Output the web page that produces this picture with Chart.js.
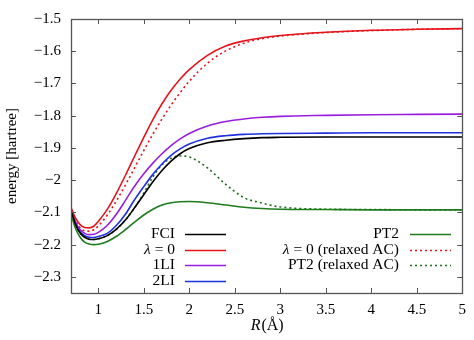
<!DOCTYPE html>
<html>
<head>
<meta charset="utf-8">
<script src="https://cdn.jsdelivr.net/npm/chart.js@4/dist/chart.umd.min.js"></script>
<style>
  html, body { margin: 0; padding: 0; background: #fff; }
  #wrap { width: 474px; height: 340px; }
</style>
</head>
<body>
<div id="wrap"><canvas id="c" width="474" height="340"></canvas></div>
<script>
// Bond length grid (Å)
const R = [0.7, 0.75, 0.8, 0.85, 0.9, 0.95, 1.0, 1.1, 1.2, 1.3, 1.4, 1.5, 1.6, 1.7, 1.8, 1.9, 2.0, 2.2, 2.4, 2.6, 2.8, 3.0, 3.5, 4.0, 4.5, 5.0];

// Energies (hartree)
const FCI = [-2.093, -2.137, -2.164, -2.177, -2.183, -2.184, -2.182, -2.172, -2.152, -2.123, -2.085, -2.045, -2.005, -1.970, -1.941, -1.918, -1.902, -1.884, -1.876, -1.871, -1.868, -1.867, -1.866, -1.866, -1.866, -1.866];
const LAMBDA0 = [-2.085, -2.118, -2.138, -2.147, -2.148, -2.143, -2.128, -2.090, -2.040, -1.984, -1.925, -1.867, -1.812, -1.763, -1.721, -1.686, -1.657, -1.613, -1.584, -1.568, -1.558, -1.551, -1.541, -1.535, -1.532, -1.530];
const LI1 = [-2.090, -2.130, -2.153, -2.165, -2.169, -2.168, -2.162, -2.140, -2.105, -2.062, -2.018, -1.980, -1.947, -1.918, -1.893, -1.872, -1.855, -1.832, -1.818, -1.810, -1.805, -1.802, -1.799, -1.797, -1.796, -1.795];
const LI2 = [-2.092, -2.134, -2.160, -2.172, -2.177, -2.178, -2.175, -2.165, -2.140, -2.105, -2.060, -2.020, -1.982, -1.950, -1.923, -1.903, -1.888, -1.870, -1.862, -1.858, -1.856, -1.855, -1.854, -1.853, -1.853, -1.853];
const PT2 = [-2.105, -2.150, -2.177, -2.192, -2.198, -2.200, -2.199, -2.190, -2.174, -2.153, -2.130, -2.108, -2.090, -2.077, -2.070, -2.067, -2.066, -2.070, -2.077, -2.084, -2.088, -2.090, -2.091, -2.092, -2.092, -2.092];
const LAMBDA0_RELAXED = [-2.087, -2.125, -2.148, -2.157, -2.158, -2.154, -2.142, -2.108, -2.064, -2.014, -1.961, -1.908, -1.857, -1.810, -1.767, -1.728, -1.693, -1.637, -1.599, -1.575, -1.561, -1.553, -1.542, -1.536, -1.532, -1.530];
const PT2_RELAXED = [-2.093, -2.137, -2.164, -2.177, -2.183, -2.184, -2.182, -2.172, -2.152, -2.123, -2.085, -2.040, -1.990, -1.952, -1.932, -1.925, -1.928, -1.962, -2.013, -2.054, -2.071, -2.083, -2.090, -2.091, -2.092, -2.092];

// Axis ranges and tick spacing
const X_RANGE = [0.7, 5];
const Y_RANGE = [-2.35, -1.5];
const X_STEP = 0.5;
const Y_STEP = 0.1;

const SERIF = '"Liberation Serif", "DejaVu Serif", serif';

function pts(ys) { return R.map((r, i) => ({ x: r, y: ys[i] })); }
function fmt(v) {
  const s = String(Number(v.toFixed(2)));
  return s.replace('-', '\u2212');
}

const series = [
  { label: 'FCI', data: FCI, color: '#000000', dash: [] },
  { label: '\u03bb = 0', data: LAMBDA0, color: '#e8141c', dash: [] },
  { label: '1LI', data: LI1, color: '#9a1ee0', dash: [] },
  { label: '2LI', data: LI2, color: '#2030e0', dash: [] },
  { label: 'PT2', data: PT2, color: '#1e7b1e', dash: [] },
  { label: '\u03bb = 0 (relaxed AC)', data: LAMBDA0_RELAXED, color: '#e8141c', dash: [2, 3] },
  { label: 'PT2 (relaxed AC)', data: PT2_RELAXED, color: '#1e6b1e', dash: [2, 3] }
];

// Inward tick marks on all four sides plus the frame
const frame = {
  id: 'frame',
  afterDraw(chart) {
    const { ctx, chartArea: a, scales } = chart;
    ctx.save();
    ctx.strokeStyle = '#555';
    ctx.lineWidth = 1;
    ctx.beginPath();
    const L = 5;
    scales.x.ticks.forEach(t => {
      const px = Math.round(scales.x.getPixelForValue(t.value)) + 0.5;
      ctx.moveTo(px, a.bottom); ctx.lineTo(px, a.bottom - L);
      ctx.moveTo(px, a.top); ctx.lineTo(px, a.top + L);
    });
    scales.y.ticks.forEach(t => {
      const py = Math.round(scales.y.getPixelForValue(t.value)) + 0.5;
      ctx.moveTo(a.left, py); ctx.lineTo(a.left + L, py);
      ctx.moveTo(a.right, py); ctx.lineTo(a.right - L, py);
    });
    ctx.stroke();
    ctx.lineWidth = 1.3;
    ctx.strokeRect(Math.round(a.left) + 0.5, Math.round(a.top) + 0.5,
                   Math.round(a.right - a.left), Math.round(a.bottom - a.top));
    ctx.restore();
  }
};

// Axis titles
const titles = {
  id: 'titles',
  afterDraw(chart) {
    const { ctx, chartArea: a } = chart;
    ctx.save();
    ctx.fillStyle = '#000';
    ctx.textBaseline = 'middle';
    ctx.font = '15px ' + SERIF;
    ctx.translate(12, (a.top + a.bottom) / 2);
    ctx.rotate(-Math.PI / 2);
    ctx.textAlign = 'center';
    ctx.fillText('energy [hartree]', 0, 0);
    ctx.restore();

    // italic R followed by (Å)
    ctx.save();
    ctx.fillStyle = '#000';
    ctx.textBaseline = 'middle';
    const cx = (a.left + a.right) / 2;
    const y = 326;
    ctx.font = 'italic 16px ' + SERIF;
    const wR = ctx.measureText('R').width;
    ctx.font = '16px ' + SERIF;
    const wRest = ctx.measureText('(\u00c5)').width;
    const x0 = cx - (wR + wRest) / 2;
    ctx.textAlign = 'left';
    ctx.font = 'italic 16px ' + SERIF;
    ctx.fillText('R', x0, y);
    ctx.font = '16px ' + SERIF;
    ctx.fillText('(\u00c5)', x0 + wR + 1, y);
    ctx.restore();
  }
};

// Two-column key in the lower right of the plot
const KEY_FONT = '15.5px ' + SERIF;
function drawLabel(ctx, text, right, y) {
  // split so that λ can be set in italics
  const parts = [];
  let buf = '';
  for (const ch of text) {
    if (ch === '\u03bb') { if (buf) parts.push({ t: buf, it: false }); parts.push({ t: ch, it: true }); buf = ''; }
    else buf += ch;
  }
  if (buf) parts.push({ t: buf, it: false });
  const widths = parts.map(p => { ctx.font = (p.it ? 'italic ' : '') + KEY_FONT; return ctx.measureText(p.t).width; });
  let x = right - widths.reduce((s, w) => s + w, 0);
  parts.forEach((p, i) => {
    ctx.font = (p.it ? 'italic ' : '') + KEY_FONT;
    ctx.fillText(p.t, x, y);
    x += widths[i];
  });
}
const key = {
  id: 'key',
  afterDatasetsDraw(chart) {
    const { ctx } = chart;
    const cols = [
      { textRight: 175, x1: 185, x2: 226, items: [0, 1, 2, 3] },
      { textRight: 399, x1: 410, x2: 451, items: [4, 5, 6] }
    ];
    const rowY0 = 234, rowH = 15.6;
    ctx.save();
    ctx.fillStyle = '#000';
    ctx.textBaseline = 'middle';
    ctx.textAlign = 'left';
    cols.forEach(c => {
      c.items.forEach((idx, row) => {
        const ds = chart.data.datasets[idx];
        const y = rowY0 + row * rowH;
        drawLabel(ctx, ds.label, c.textRight, y);
        ctx.save();
        ctx.strokeStyle = ds.borderColor;
        ctx.lineWidth = ds.borderWidth;
        ctx.setLineDash(ds.borderDash || []);
        ctx.beginPath();
        ctx.moveTo(c.x1, Math.round(y) + 0.5);
        ctx.lineTo(c.x2, Math.round(y) + 0.5);
        ctx.stroke();
        ctx.restore();
      });
    });
    ctx.restore();
  }
};

new Chart(document.getElementById('c'), {
  type: 'line',
  data: {
    datasets: series.map(s => ({
      label: s.label,
      data: pts(s.data),
      borderColor: s.color,
      backgroundColor: s.color,
      borderDash: s.dash,
      borderWidth: 1.6,
      pointRadius: 0,
      fill: false,
      cubicInterpolationMode: 'monotone'
    }))
  },
  options: {
    responsive: false,
    devicePixelRatio: 1,
    animation: false,
    layout: { padding: { top: 7, right: 4, left: 0, bottom: 0 } },
    plugins: { legend: { display: false }, tooltip: { enabled: false } },
    scales: {
      x: {
        type: 'linear',
        min: X_RANGE[0], max: X_RANGE[1],
        grid: { display: false, drawTicks: false },
        border: { display: false },
        ticks: {
          stepSize: X_STEP, includeBounds: false, padding: 8,
          color: '#000', font: { family: SERIF, size: 15 },
          callback: v => fmt(v), maxRotation: 0
        },
        afterFit(s) { s.height = 47; }
      },
      y: {
        type: 'linear',
        min: Y_RANGE[0], max: Y_RANGE[1],
        grid: { display: false, drawTicks: false },
        border: { display: false },
        ticks: {
          stepSize: Y_STEP, includeBounds: false, padding: 10,
          color: '#000', font: { family: SERIF, size: 15 },
          callback: v => fmt(v)
        },
        afterFit(s) { s.width = 71; }
      }
    }
  },
  plugins: [frame, titles, key]
});
</script>
</body>
</html>
